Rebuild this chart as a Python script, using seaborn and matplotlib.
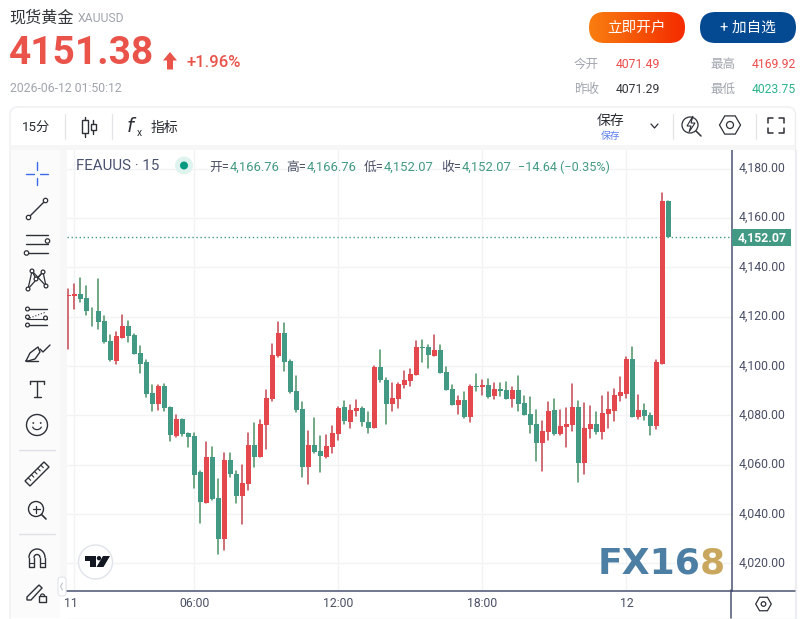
import numpy as np
import pandas as pd
import matplotlib
matplotlib.use('Agg')
import matplotlib.pyplot as plt
import matplotlib.transforms as mtrans
import seaborn as sns
from matplotlib.patches import Circle, FancyBboxPatch, Polygon, RegularPolygon, Rectangle

# 15 minute bars
opens = [4128.4, 4128.2, 4129.0, 4127.4, 4122.4, 4122.2, 4118.1, 4110.0, 4101.9, 4111.2,
         4116.1, 4112.5, 4105.2, 4101.5, 4089.0, 4084.6, 4091.8, 4083.3, 4071.6, 4078.5,
         4072.8, 4071.6, 4057.1, 4044.5, 4063.1, 4046.5, 4030.0, 4061.9, 4056.3, 4047.4,
         4052.2, 4068.0, 4063.0, 4076.0, 4086.5, 4104.2, 4113.5, 4101.8, 4089.7, 4082.4,
         4059.0, 4067.9, 4065.5, 4063.0, 4067.1, 4072.3, 4083.2, 4077.2, 4081.6, 4082.8,
         4077.2, 4074.7, 4099.4, 4094.5, 4084.4, 4086.5, 4092.1, 4093.7, 4096.2, 4107.5,
         4107.5, 4104.2, 4106.3, 4097.4, 4090.5, 4084.0, 4086.1, 4079.2, 4091.7, 4091.6,
         4092.4, 4088.0, 4090.8, 4090.4, 4086.4, 4090.4, 4085.1, 4080.7, 4076.6, 4068.9,
         4073.4, 4082.3, 4072.6, 4075.4, 4076.2, 4083.5, 4060.8, 4074.6, 4076.6, 4073.4,
         4080.7, 4081.9, 4088.0, 4088.8, 4103.0, 4079.5, 4082.3, 4080.3, 4075.8, 4100.9,
         4166.76]
closes = [4128.6, 4129.0, 4127.0, 4122.2, 4122.1, 4117.7, 4109.6, 4102.3, 4112.0, 4116.1,
          4112.0, 4104.8, 4100.7, 4088.6, 4084.6, 4091.8, 4082.9, 4072.0, 4078.5, 4072.4,
          4071.2, 4055.8, 4044.9, 4063.1, 4046.1, 4030.0, 4061.9, 4056.3, 4047.4, 4052.6,
          4068.0, 4063.1, 4076.4, 4086.9, 4104.6, 4113.5, 4101.4, 4089.3, 4082.0, 4059.0,
          4067.9, 4065.0, 4063.4, 4067.5, 4072.7, 4082.8, 4077.6, 4082.0, 4082.8, 4077.2,
          4074.7, 4099.4, 4094.1, 4084.4, 4086.9, 4092.5, 4094.1, 4096.6, 4107.5, 4107.1,
          4104.6, 4106.3, 4097.0, 4090.1, 4084.0, 4086.1, 4079.2, 4091.7, 4091.3, 4092.4,
          4087.6, 4090.8, 4090.0, 4086.4, 4090.4, 4084.7, 4080.3, 4076.2, 4068.9, 4073.8,
          4081.9, 4072.6, 4075.8, 4076.6, 4083.5, 4060.8, 4075.0, 4076.6, 4073.4, 4081.1,
          4082.7, 4088.4, 4089.6, 4103.0, 4079.5, 4082.3, 4079.9, 4075.8, 4101.4, 4167.0,
          4152.07]
highs = [4131.1, 4133.1, 4135.5, 4132.3, 4123.4, 4135.1, 4120.1, 4112.5, 4113.7, 4120.5,
         4118.1, 4112.9, 4108.0, 4102.3, 4092.2, 4092.2, 4092.6, 4083.3, 4080.1, 4078.5,
         4072.8, 4072.8, 4057.5, 4069.2, 4067.2, 4054.2, 4064.7, 4064.7, 4057.5, 4059.9,
         4072.8, 4076.9, 4078.0, 4090.1, 4108.7, 4118.0, 4117.2, 4102.6, 4095.8, 4085.3,
         4073.5, 4078.8, 4071.6, 4072.0, 4075.6, 4083.2, 4085.7, 4084.0, 4086.1, 4083.2,
         4081.2, 4099.8, 4106.3, 4095.0, 4092.9, 4092.9, 4097.8, 4098.6, 4110.3, 4110.7,
         4108.3, 4112.7, 4108.3, 4099.4, 4092.1, 4087.7, 4089.3, 4092.1, 4096.6, 4094.5,
         4094.9, 4093.2, 4093.2, 4093.6, 4091.6, 4096.1, 4088.0, 4087.6, 4082.3, 4077.8,
         4085.5, 4086.4, 4082.3, 4083.1, 4092.8, 4085.9, 4085.1, 4083.9, 4081.5, 4088.0,
         4089.6, 4090.8, 4095.7, 4103.8, 4107.8, 4088.4, 4084.7, 4081.1, 4102.6, 4169.92,
         4166.76]
lows = [4106.8, 4123.0, 4125.8, 4120.5, 4116.1, 4114.9, 4109.2, 4101.9, 4100.7, 4111.2,
        4109.6, 4104.8, 4097.1, 4087.3, 4081.7, 4082.1, 4081.7, 4069.6, 4071.2, 4071.6,
        4067.2, 4050.6, 4036.4, 4044.5, 4045.7, 4023.9, 4025.5, 4055.0, 4044.5, 4036.0,
        4049.8, 4059.1, 4063.0, 4066.3, 4085.7, 4103.8, 4097.8, 4088.9, 4081.2, 4055.0,
        4052.2, 4064.6, 4057.0, 4062.6, 4064.6, 4069.9, 4076.4, 4074.7, 4079.6, 4075.6,
        4072.7, 4074.7, 4093.3, 4076.4, 4081.6, 4082.8, 4090.9, 4091.7, 4096.2, 4101.4,
        4099.0, 4104.2, 4097.0, 4090.1, 4084.0, 4080.4, 4078.8, 4077.2, 4089.7, 4088.4,
        4087.2, 4086.8, 4088.0, 4086.4, 4083.5, 4081.9, 4080.3, 4073.0, 4061.6, 4057.6,
        4070.1, 4072.2, 4072.2, 4067.3, 4073.8, 4053.1, 4056.4, 4070.9, 4072.6, 4070.5,
        4075.0, 4077.8, 4085.9, 4087.2, 4079.5, 4078.6, 4078.2, 4072.2, 4074.6, 4100.9,
        4152.07]

price_ticks = [4020, 4040, 4060, 4080, 4100, 4120, 4140, 4160, 4180]
time_labels = ['11', '06:00', '12:00', '18:00', '12']
time_bars = [1, 21, 45, 69, 93]
last_price = 4152.07

UP = '#e4474c'
DOWN = '#429a85'
UP_WICK = '#c2454f'
DOWN_WICK = '#4a9163'
GRID = '#f2f3f5'
AXIS = '#4a5270'
TICK = '#4a4f66'
GRAY = '#a0a4ad'
ICON = '#2e3038'

sns.set_theme(style='white')
plt.rcParams['font.family'] = ['Roboto', 'Noto Sans CJK SC', 'DejaVu Sans']
plt.rcParams['axes.unicode_minus'] = False

df = pd.DataFrame({'bar': np.arange(len(opens)), 'open': opens, 'close': closes,
                   'high': highs, 'low': lows})
df['dir'] = np.where(df['close'] >= df['open'], 'up', 'down')
df['body_low'] = df[['open', 'close']].min(axis=1)
df['body'] = (df['open'] - df['close']).abs()

wicks = df.melt(id_vars=['bar', 'dir'], value_vars=['low', 'high'], value_name='price')

W, H = 806, 619
fig = plt.figure(figsize=(W / 100, H / 100), dpi=100, facecolor='white')
ax = fig.add_axes([67 / W, (H - 590.5) / H, 664.5 / W, 440.5 / H])

sns.lineplot(data=wicks, x='bar', y='price', units='bar', estimator=None, hue='dir',
             palette={'up': UP_WICK, 'down': DOWN_WICK}, linewidth=1.1, legend=False,
             zorder=2, ax=ax)
# color is only a start, the bars get their own colour below
sns.barplot(data=df, x='bar', y='body', native_scale=True, width=0.84, errorbar=None,
            color=DOWN, saturation=1, bottom=df['body_low'].values, linewidth=0, zorder=3, ax=ax)
for patch, d in zip(ax.patches, df['dir']):
    patch.set_facecolor(UP if d == 'up' else DOWN)

ax.axhline(last_price, color=DOWN, linewidth=1, linestyle=(0, (1, 1.9)), zorder=2.5)

ax.set_xlim(-0.22, 110.5)
ax.set_ylim(4009.0, 4187.5)
ax.set_xlabel('')
ax.set_ylabel('')
ax.set_xticks(time_bars)
ax.set_xticklabels(time_labels, color=TICK, fontsize=8.8)
ax.set_yticks(price_ticks)
ax.set_yticklabels([f'{p:,.2f}' for p in price_ticks], color=TICK, fontsize=8.8)
ax.yaxis.tick_right()
ax.tick_params(axis='y', length=0, pad=5)
ax.tick_params(axis='x', length=0, pad=5)
up_shift = mtrans.ScaledTranslation(0, 1.6 / 100, fig.dpi_scale_trans)
for t in ax.get_yticklabels():
    t.set_transform(t.get_transform() + up_shift)
# the first date label sits a little left of its grid line
first = ax.get_xticklabels()[0]
first.set_transform(first.get_transform() + mtrans.ScaledTranslation(-3.5 / 100, 0, fig.dpi_scale_trans))
ax.grid(True, color=GRID, linewidth=1)
ax.set_axisbelow(True)
sns.despine(ax=ax, left=True, top=True, right=False, bottom=False)
for side in ['right', 'bottom']:
    ax.spines[side].set_color(AXIS)
    ax.spines[side].set_linewidth(1.1)

# everything around the chart, in pixel coordinates
ui = fig.add_axes([0, 0, 1, 1], zorder=5)
ui.set_xlim(0, W)
ui.set_ylim(H, 0)
ui.axis('off')


def line(xs, ys, color=ICON, lw=1.0, **kw):
    ui.plot(xs, ys, color=color, linewidth=lw, solid_capstyle='round', **kw)


def dot(x, y, r=2.2, color=ICON):
    ui.add_patch(Circle((x, y), r, fill=True, fc='white', ec=color, lw=0.9, zorder=6))


def label(x, y, s, size=9, color=ICON, ha='left', **kw):
    ui.text(x, y, s, fontsize=size, color=color, ha=ha, va='center', **kw)


def pill(x0, y0, x1, y1, r, **kw):
    p = FancyBboxPatch((x0 + r, y0 + r), x1 - x0 - 2 * r, y1 - y0 - 2 * r,
                       boxstyle=f'round,pad={r},rounding_size={r}', **kw)
    ui.add_patch(p)
    return p


# card and toolbars
pill(10, 107, 795.5, 640, 8, fc='none', ec='#eceef1', lw=1, zorder=0)
ui.add_patch(Rectangle((11, 145), 784, 5, fc='#f6f6f7', ec='none', zorder=0))
ui.add_patch(Rectangle((11, 150), 49, 468, fc='#fbfbfc', ec='none', zorder=0))
ui.add_patch(Rectangle((60, 150), 7, 440, fc='#f7f7f8', ec='none', zorder=0))
line([67, 795], [618.5, 618.5], color='#e6e7ea', lw=1)
line([795.5, 795.5], [150, 618], color='#eeeff1', lw=1)
line([731.3, 731.3], [590, 618], color=AXIS, lw=1.1)
line([731, 795], [590.5, 590.5], color=AXIS, lw=1.1)

# header
label(9, 18, '现货黄金', size=11.6, color='#33353a')
label(78, 18.5, 'XAUUSD', size=8.8, color=GRAY)
label(9, 53.5, '4151.38', size=28, color='#e9534a', fontweight='bold')
ui.add_patch(Polygon([[170, 52], [177, 60.5], [173, 60.5], [173, 69.5], [167, 69.5],
                      [167, 60.5], [163, 60.5]], fc='#e9534a', ec='none'))
label(186.5, 62.5, '+1.96%', size=12, color='#e9534a', fontweight='medium')
label(10, 88.5, '2026-06-12 01:50:12', size=8.8, color=GRAY)

btn = pill(589, 12, 685, 43, 15.5, fc='none', ec='none')
grad = ui.imshow(np.linspace(0, 1, 256).reshape(1, -1), extent=(589, 685, 43, 12),
                 cmap=matplotlib.colors.LinearSegmentedColormap.from_list('b', ['#f97e10', '#f42b00']),
                 aspect='auto', zorder=1)
grad.set_clip_path(btn)
ui.set_xlim(0, W)
ui.set_ylim(H, 0)
label(637, 28, '立即开户', size=10.5, color='white', ha='center', zorder=3)
pill(700, 12, 796, 43, 15.5, fc='#044a92', ec='none')
label(748, 28, '+ 加自选', size=10.5, color='white', ha='center')

label(574, 64.5, '今开', size=9, color=GRAY)
label(616, 64.5, '4071.49', size=8.7, color='#ee4b4b')
label(710, 64.5, '最高', size=9, color=GRAY)
label(752, 64.5, '4169.92', size=8.7, color='#ee4b4b')
label(574, 89.5, '昨收', size=9, color=GRAY)
label(616, 89.5, '4071.29', size=8.7, color='#33353a')
label(710, 89.5, '最低', size=9, color=GRAY)
label(752, 89.5, '4023.75', size=8.7, color='#2bb38c')

# top toolbar
label(22, 127.5, '15分', size=9.6, color='#2a2c33')
for x in [65, 112, 673, 756]:
    line([x, x], [114, 139], color='#e3e4e8', lw=0.9)
line([85, 85], [117, 137], lw=1)
ui.add_patch(Rectangle((82, 120), 6, 13, fc='white', ec=ICON, lw=1, zorder=6))
line([93, 93], [120, 134], lw=1)
ui.add_patch(Rectangle((90.5, 124), 5, 6, fc='white', ec=ICON, lw=1, zorder=6))
label(125.5, 126, r'$\mathit{f}$', size=14, color=ICON)
label(137, 133, 'x', size=7.5, color=ICON)
label(151, 127.5, '指标', size=10, color='#2a2c33')
label(611, 121.5, '保存', size=10, color='#2a2c33', ha='center')
label(611, 135.5, '保存', size=7, color='#5b7ef0', ha='center')
line([651, 654.5, 658], [124, 128, 124], lw=0.9)
ui.add_patch(Circle((690, 125), 8, fill=False, ec=ICON, lw=0.9))
line([696, 701], [131, 136], lw=1.1)
ui.add_patch(Polygon([[693, 116], [687, 126], [691, 126], [689, 132], [695, 123], [691, 123]],
                     fc='white', ec=ICON, lw=0.8, zorder=6))
ui.add_patch(RegularPolygon((730, 125), 6, radius=10.5, orientation=np.pi / 6, fill=False, ec=ICON, lw=0.9))
ui.add_patch(Circle((730, 125), 3.5, fill=False, ec=ICON, lw=0.9))
for cx, cy, sx, sy in [(768, 118, 1, 1), (784, 118, -1, 1), (768, 133, 1, -1), (784, 133, -1, -1)]:
    line([cx, cx, cx + 5 * sx], [cy + 5 * sy, cy, cy], lw=1.1)

# left drawing tools
BLUE = '#3b6be8'
line([37, 37], [162, 170], color=BLUE, lw=1)
line([37, 37], [178, 185], color=BLUE, lw=1)
line([26, 34], [173.5, 173.5], color=BLUE, lw=1)
line([40, 48], [173.5, 173.5], color=BLUE, lw=1)

line([29, 45], [217, 201], lw=1)
dot(28.5, 217.5)
dot(45.5, 200.5)

for y in [235, 244, 253]:
    line([26, 48], [y, y], lw=1)
dot(47.5, 241)
dot(26.5, 253)

pts = [(28, 289), (32, 271), (36, 279), (43, 272), (46, 286)]
line([p[0] for p in pts], [p[1] for p in pts], lw=0.9)
line([32, 46], [271, 286], lw=0.9)
line([43, 28], [272, 289], lw=0.9)
for p in pts:
    dot(p[0], p[1], 1.9)

line([27, 47], [309, 309], lw=1)
line([27, 47], [325, 325], lw=1)
line([27, 46], [319, 312], lw=0.8, linestyle=':')
line([27, 47], [319, 319], lw=0.8)
for x, y in [(27.5, 309), (27.5, 317), (27.5, 325), (45.5, 318)]:
    dot(x, y, 1.9)

line([26, 30, 38, 40, 35, 28, 26], [361, 353, 347, 352, 359, 361, 361], lw=1)
line([26, 38], [361, 361], lw=1)
line([40, 43, 50], [349, 352, 345], lw=1)

line([30, 44], [381, 381], lw=1)
line([37, 37], [381, 397], lw=1)
line([33.5, 40.5], [397, 397], lw=1)
line([30, 30], [381, 384], lw=1)
line([44, 44], [381, 384], lw=1)

ui.add_patch(Circle((37, 425), 10.5, fill=False, ec=ICON, lw=1))
ui.add_patch(Circle((33.3, 423), 0.9, fc=ICON, ec='none'))
ui.add_patch(Circle((40.7, 423), 0.9, fc=ICON, ec='none'))
ui.plot(37 + 4.5 * np.cos(np.linspace(0.3, 2.84, 20)), 426 + 3.6 * np.sin(np.linspace(0.3, 2.84, 20)),
        color=ICON, lw=0.9)

line([19, 55], [450, 450], color='#dfe1e8', lw=1)
ui.add_patch(Polygon([[25, 481], [44, 462], [49, 467], [30, 486]], fill=False, ec=ICON, lw=1))
for t in range(1, 6):
    px = 25 + 19 * t / 6
    py = 481 - 19 * t / 6
    line([px, px + 2.5], [py, py + 2.5], lw=0.8)

ui.add_patch(Circle((36, 509), 7.5, fill=False, ec=ICON, lw=1))
line([41.5, 46], [514.5, 519], lw=1.2)
line([32.5, 39.5], [509, 509], lw=0.9)
line([36, 36], [505.5, 512.5], lw=0.9)

line([19, 55], [534, 534], color='#dfe1e8', lw=1)
th = np.linspace(np.pi, 2 * np.pi, 30)
ui.plot(37 + 8 * np.cos(th), 557.5 + 8.5 * np.sin(th), color=ICON, lw=1)
ui.plot(37 + 3 * np.cos(th), 557.5 + 3 * np.sin(th), color=ICON, lw=1)
line([29, 29, 34, 34], [557.5, 567, 567, 557.5], lw=1)
line([40, 40, 45, 45], [557.5, 567, 567, 557.5], lw=1)
line([29, 34], [562.5, 562.5], lw=0.8)
line([40, 45], [562.5, 562.5], lw=0.8)

ui.add_patch(Polygon([[27, 597], [39, 585], [42, 588], [31, 600], [27, 600]], fill=False, ec=ICON, lw=1))
ui.add_patch(Rectangle((39, 596), 7, 6, fill=False, ec=ICON, lw=1))
ui.plot(42.5 + 2 * np.cos(th), 596 + 2 * np.sin(th), color=ICON, lw=0.9)
pill(58, 577, 66, 596, 3.5, fc='white', ec='#e3e4ea', lw=0.8, zorder=6)
line([62.5, 60.5, 62.5], [583, 586.5, 590], color='#c5c7cf', lw=0.9, zorder=7)

# legend row on the chart
label(76, 166.5, 'FEAUUS · 15', size=10.8, color=AXIS)
ui.add_patch(Circle((184, 165.5), 9, fc='#dff3ee', ec='none'))
ui.add_patch(Circle((184, 165.5), 4, fc='#089981', ec='none'))
for x, s in [(209, '开='), (286, '高='), (363.5, '低='), (441, '收=')]:
    label(x, 167, s, size=9.2, color=TICK)
for x, s in [(229.5, '4,166.76'), (307, '4,166.76'), (384, '4,152.07'), (461.5, '4,152.07')]:
    label(x, 167, s, size=9.4, color='#439a84')
label(518, 167, '−14.64 (−0.35%)', size=9.1, color='#439a84')

# last price tag on the axis
ui.add_patch(Rectangle((731.5, 229), 59.5, 17, fc='#439a84', ec='none'))
label(762, 237.5, '4,152.07', size=8.8, color='white', ha='center', fontweight='bold')

# hexagon at the axis corner
ui.add_patch(RegularPolygon((763.5, 604), 6, radius=7.8, orientation=np.pi / 6, fill=False, ec=ICON, lw=0.9))
ui.add_patch(Circle((763.5, 604), 2.3, fill=False, ec=ICON, lw=0.9))

# tradingview badge
ui.add_patch(Circle((95.5, 562), 17, fc='white', ec='#e0e3eb', lw=1))
ui.add_patch(Polygon([[85, 556], [96, 556], [96, 567], [90, 567], [90, 560.5], [85, 560.5]],
                     fc='#131722', ec='none'))
ui.add_patch(Circle((99, 558.2), 2.2, fc='#131722', ec='none'))
ui.add_patch(Polygon([[103, 556], [110, 556], [103.5, 567], [96.5, 567]], fc='#131722', ec='none'))

# watermark
label(598, 563, 'FX16', size=26, color='#4d7ea3', fontweight='bold', family='DejaVu Sans')
label(700, 563, '8', size=26, color='#c9a75e', fontweight='bold', family='DejaVu Sans')

fig.savefig('out.png', dpi=100)
